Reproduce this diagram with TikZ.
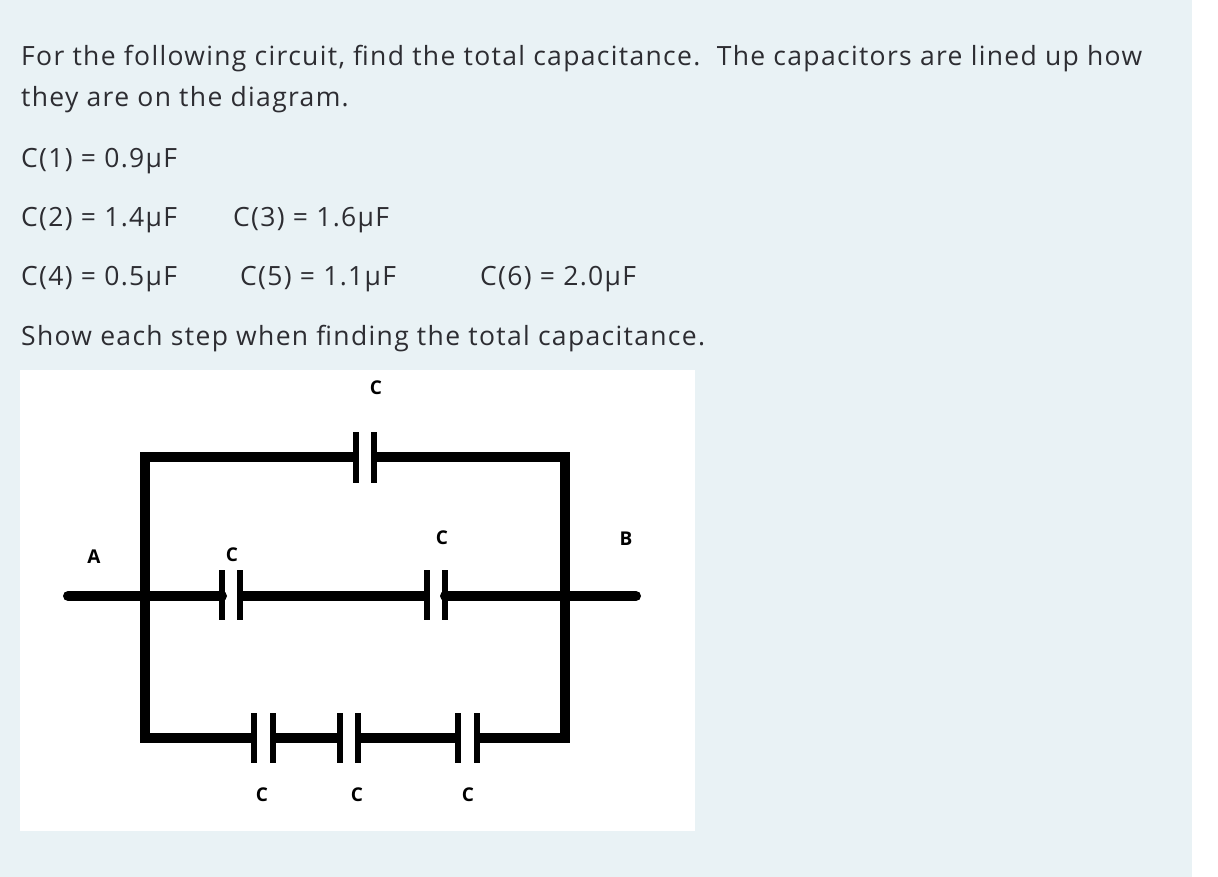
\documentclass[tikz,border=0pt]{standalone}
\usepackage{fontspec}
\setmainfont{Open Sans}[LetterSpace=5]
\definecolor{pagebg}{RGB}{233,242,245}
\definecolor{txtc}{RGB}{45,45,50}
\begin{document}
\begin{tikzpicture}[x=1pt,y=-1pt,
  txt/.style={anchor=base west,inner sep=0,font=\fontsize{26.5}{30}\selectfont,text=txtc},
  lbl/.style={inner sep=0,font=\fontsize{19}{22}\selectfont\bfseries},
  wire/.style={line width=10pt},
  plate/.style={line width=5.5pt}]
\fill[pagebg] (0,0) rectangle (1192,877);
\fill[white] (1192,0) rectangle (1218,877);
\useasboundingbox (0,0) rectangle (1218,877);
\node[txt] (t1) at (21,66) {For the following circuit, find the total capacitance.\ \ The capacitors are lined up how};
\node[txt] (t2) at (21,107) {they are on the diagram.};
\node[txt] (t3) at (21,168) {C(1) = 0.9µF};
\node[txt] (t4) at (21,227) {C(2) = 1.4µF};
\node[txt] (t5) at (233,227) {C(3) = 1.6µF};
\node[txt] (t6) at (21,286) {C(4) = 0.5µF};
\node[txt] (t7) at (240,286) {C(5) = 1.1µF};
\node[txt] (t8) at (480,286) {C(6) = 2.0µF};
\node[txt] (t9) at (21,345) {Show each step when finding the total capacitance.};
\fill[white] (20,370) rectangle (695,831);
% coordinates
\coordinate (TL) at (145,457); \coordinate (TR) at (565,457);
\coordinate (BL) at (145,738); \coordinate (BR) at (565,738);
\coordinate (A) at (68,596); \coordinate (B) at (636,596);
% top branch and sides
\draw[wire] (356,457) -- (TL) -- (BL) -- (254,738);
\draw[wire] (374,457) -- (TR) -- (BR) -- (477,738);
\draw[plate] (356,432) -- (356,483) (374,432) -- (374,483);
% middle
\draw[wire,line cap=round] (A) -- (222,596);
\draw[wire] (240,596) -- (427,596);
\draw[wire,line cap=round] (445,596) -- (B);
\draw[plate] (222,570) -- (222,620) (240,570) -- (240,620);
\draw[plate] (427,570) -- (427,620) (445,570) -- (445,620);
% bottom
\draw[wire] (273,738) -- (340,738);
\draw[wire] (358,738) -- (458,738);
\draw[plate] (254,713) -- (254,763) (273,713) -- (273,763);
\draw[plate] (340,713) -- (340,763) (358,713) -- (358,763);
\draw[plate] (458,713) -- (458,763) (477,713) -- (477,763);
% labels
\node[lbl] (l1) at (376,388) {C};
\node[lbl] (l2) at (232,555) {C};
\node[lbl] (l3) at (442,538) {C};
\node[lbl] (la) at (94,557) {A};
\node[lbl] (lb) at (626,539) {B};
\node[lbl] (l4) at (262,795) {C};
\node[lbl] (l5) at (357,795) {C};
\node[lbl] (l6) at (468,795) {C};
\end{tikzpicture}
\end{document}
